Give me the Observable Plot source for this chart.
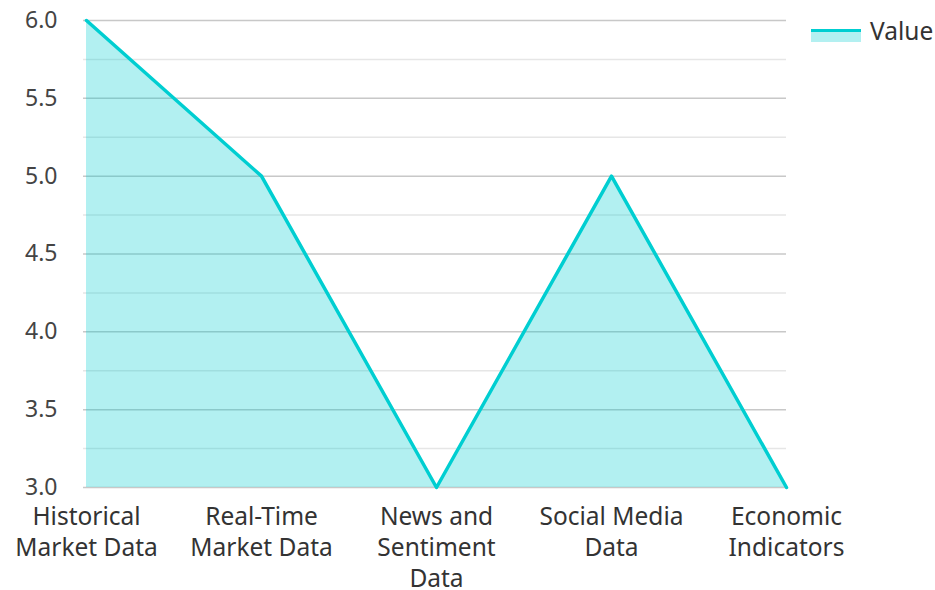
<!DOCTYPE html>
<html>
<head>
<meta charset="utf-8">
<script src="https://cdn.jsdelivr.net/npm/d3@7"></script>
<script src="https://cdn.jsdelivr.net/npm/@observablehq/plot@0.6"></script>
<style>
  html, body { margin: 0; padding: 0; background: #fff; }
  #wrap { position: relative; width: 935px; height: 590px; font-family: "Noto Sans", "Open Sans", sans-serif; }
  #legend { position: absolute; left: 811px; top: 14px; display: flex; align-items: center; gap: 9px; font-size: 24.5px; color: #333; }
  #legend .sw { width: 50px; height: 10px; border-top: 3px solid #00CED1; background: #b3f0f1; margin-top: 10px; }
</style>
</head>
<body>
<div id="wrap">
  <div id="chart"></div>
  <div id="legend"><div class="sw"></div><span>Value</span></div>
</div>
<script>
const categories = ["Historical Market Data", "Real-Time Market Data", "News and Sentiment Data", "Social Media Data", "Economic Indicators"];
const tickLabels = ["Historical\nMarket Data", "Real-Time\nMarket Data", "News and\nSentiment\nData", "Social Media\nData", "Economic\nIndicators"];
const values = [6, 5, 3, 5, 3];
const yTicks = [3.0, 3.5, 4.0, 4.5, 5.0, 5.5, 6.0];
const minorTicks = [3.25, 3.75, 4.25, 4.75, 5.25, 5.75];

const data = categories.map((c, i) => ({category: c, value: values[i]}));
const labelOf = new Map(categories.map((c, i) => [c, tickLabels[i]]));

const chart = Plot.plot({
  width: 935,
  height: 590,
  marginLeft: 85,
  marginRight: 149,
  marginTop: 20,
  marginBottom: 103,
  style: { fontFamily: "'Noto Sans', 'Open Sans', sans-serif", background: "#fff" },
  x: { type: "point", domain: categories, padding: 0 },
  y: { domain: [3, 6] },
  marks: [
    Plot.ruleY(minorTicks, { stroke: "#e6e6e6", strokeWidth: 1.5, insetLeft: -2 }),
    Plot.ruleY(yTicks, { stroke: "#c8c8c8", strokeWidth: 1.5, insetLeft: -2 }),
    Plot.areaY(data, { x: "category", y1: 3, y2: "value", fill: "#00CED1", fillOpacity: 0.3 }),
    Plot.lineY(data, { x: "category", y: "value", stroke: "#00CED1", strokeWidth: 3.5 }),
    Plot.axisY(yTicks, { tickSize: 0, tickPadding: 28, fontSize: 23, fill: "#444", tickFormat: d => d.toFixed(1), label: null }),
    Plot.axisX({ tickSize: 0, tickPadding: 15, fontSize: 24.5, fill: "#333", lineHeight: 1.27, tickFormat: d => labelOf.get(d), label: null })
  ]
});
document.getElementById("chart").appendChild(chart);
</script>
</body>
</html>
